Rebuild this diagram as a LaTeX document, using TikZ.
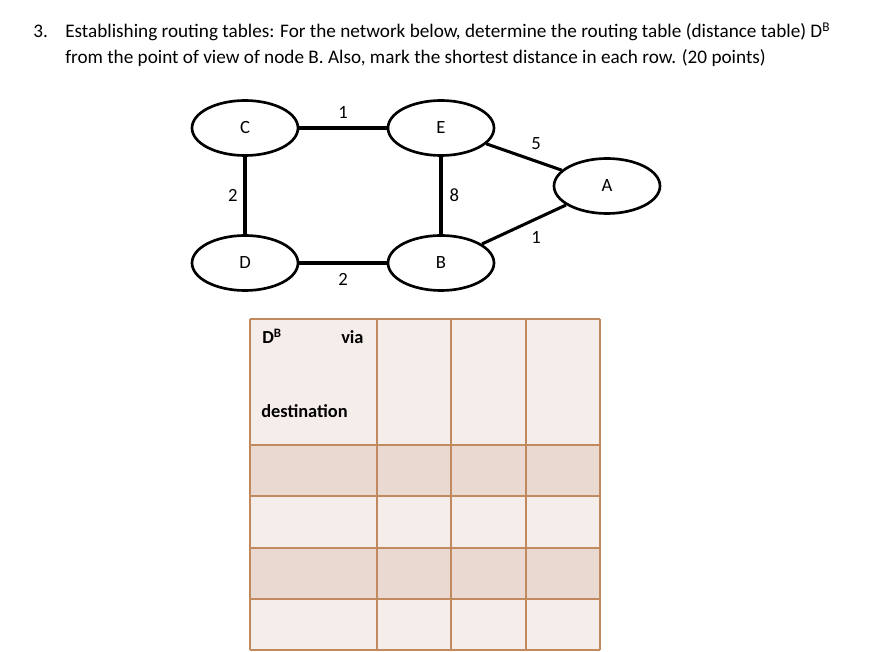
\documentclass[tikz,border=0pt]{standalone}
\usepackage{fontspec}
\setmainfont{Carlito}
\usetikzlibrary{shapes.geometric}
\definecolor{bord}{HTML}{C08A5E}
\definecolor{light}{HTML}{F5EDE9}
\definecolor{dark}{HTML}{E9D9D1}
\tikzset{
 nd/.style={ellipse,draw,line width=2pt,minimum width=106pt*0.75,minimum height=55pt*0.75,font=\fontsize{14}{16}\selectfont},
 edge/.style={line width=2.3pt},
 lbl/.style={font=\fontsize{14}{16}\selectfont},
 txt/.style={font=\fontsize{14.4}{17}\selectfont,anchor=base west,inner sep=0},
 btxt/.style={font=\bfseries\fontsize{13.8}{17}\selectfont,anchor=base west,inner sep=0},
 cell/.style={draw=bord,line width=1.6pt},
}
\begin{document}
\begin{tikzpicture}[x=0.75pt,y=-0.75pt]
\useasboundingbox (0,0) rectangle (872,652);
\node[txt] (n3) at (33,38) {3.};
\node[txt] (t1) at (65,38) {Establishing routing tables: For the network below, determine the routing table (distance table) D\textsuperscript{B}};
\node[txt] (t2) at (65,64) {from the point of view of node B. Also, mark the shortest distance in each row. (20 points)};
\node[nd] (C) at (245,128) {C};
\node[nd] (E) at (441,128) {E};
\node[nd] (A) at (607,186) {A};
\node[nd] (D) at (245,263) {D};
\node[nd] (B) at (441,263) {B};
\draw[edge] (C) -- node[lbl,above=3pt]{1} (E);
\draw[edge] (D) -- node[lbl,below=3pt]{2} (B);
\draw[edge] (C) -- node[lbl,left=1pt]{2} (D);
\draw[edge] (E) -- node[lbl,right=2pt]{8} (B);
\draw[edge] (E) -- node[lbl,above right=1pt]{5} (A);
\draw[edge] (B) -- node[lbl,below right=1pt]{1} (A);
% table
\fill[light] (250,319) rectangle (600,650);
\fill[dark] (250,445) rectangle (600,496);
\fill[dark] (250,548) rectangle (600,599);
\foreach \y in {319,445,496,548,599,650} \draw[cell] (250,\y) -- (600,\y);
\foreach \x in {250,377,451,526,600} \draw[cell] (\x,319) -- (\x,650);
\node[btxt] (db) at (262,344) {D\textsuperscript{B}};
\node[btxt] (via) at (341,344) {via};
\node[btxt] (dest) at (261,418) {destination};
\end{tikzpicture}
\end{document}
